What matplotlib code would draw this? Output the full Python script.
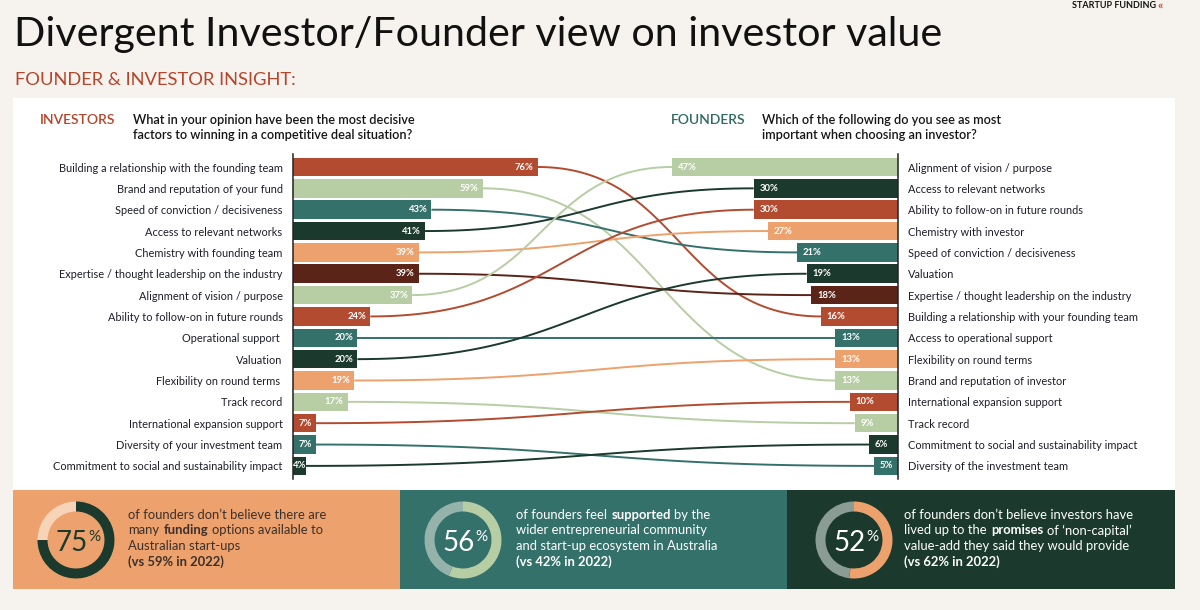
import matplotlib
matplotlib.use("Agg")
import matplotlib.pyplot as plt
import numpy as np
from matplotlib.patches import Rectangle


# ============================================
# Data
# ============================================

investor_labels = [
    "Building a relationship with the founding team",
    "Brand and reputation of your fund",
    "Speed of conviction / decisiveness",
    "Access to relevant networks",
    "Chemistry with founding team",
    "Expertise / thought leadership on the industry",
    "Alignment of vision / purpose",
    "Ability to follow-on in future rounds",
    "Operational support ",
    "Valuation",
    "Flexibility on round terms ",
    "Track record",
    "International expansion support",
    "Diversity of your investment team",
    "Commitment to social and sustainability impact",
]
investor_values = [76, 59, 43, 41, 39, 39, 37, 24, 20, 20, 19, 17, 7, 7, 4]
investor_keys = [
    "relationship", "brand", "speed", "networks", "chemistry", "expertise",
    "alignment", "follow_on", "operational", "valuation", "flexibility",
    "track", "international", "diversity", "commitment",
]

founder_labels = [
    "Alignment of vision / purpose",
    "Access to relevant networks",
    "Ability to follow-on in future rounds",
    "Chemistry with investor",
    "Speed of conviction / decisiveness",
    "Valuation",
    "Expertise / thought leadership on the industry",
    "Building a relationship with your founding team",
    "Access to operational support",
    "Flexibility on round terms",
    "Brand and reputation of investor",
    "International expansion support",
    "Track record",
    "Commitment to social and sustainability impact",
    "Diversity of the investment team",
]
founder_values = [47, 30, 30, 27, 21, 19, 18, 16, 13, 13, 13, 10, 9, 6, 5]
founder_keys = [
    "alignment", "networks", "follow_on", "chemistry", "speed", "valuation",
    "expertise", "relationship", "operational", "flexibility", "brand",
    "international", "track", "commitment", "diversity",
]

donut_values = [75, 56, 52]
donut_texts = [
    [[("of founders don’t believe there are", False)],
     [("many ", False), ("funding", True), (" options available to", False)],
     [("Australian start-ups", False)],
     [("(vs 59% in 2022)", True)]],
    [[("of founders feel ", False), ("supported", True), (" by the", False)],
     [("wider entrepreneurial community", False)],
     [("and start-up ecosystem in Australia", False)],
     [("(vs 42% in 2022)", True)]],
    [[("of founders don’t believe investors have", False)],
     [("lived up to the ", False), ("promises", True), (" of ‘non-capital’", False)],
     [("value-add they said they would provide", False)],
     [("(vs 62% in 2022)", True)]],
]


# ============================================
# Style
# ============================================

RUST = "#b34b30"
LIGHT_GREEN = "#b7cda4"
TEAL = "#35716b"
DARK = "#1b3a2d"
ORANGE = "#eda16d"
BROWN = "#5b2419"

key_colors = {
    "relationship": RUST, "brand": LIGHT_GREEN, "speed": TEAL,
    "networks": DARK, "chemistry": ORANGE, "expertise": BROWN,
    "alignment": LIGHT_GREEN, "follow_on": RUST, "operational": TEAL,
    "valuation": DARK, "flexibility": ORANGE, "track": LIGHT_GREEN,
    "international": RUST, "diversity": TEAL, "commitment": DARK,
}

plt.rcParams["font.family"] = ["Lato", "DejaVu Sans"]

W, H = 1200, 610
BG = "#f6f3ee"
LABEL_COLOR = "#1d1d2b"


def px_rect(x, y, w, h):
    return [x / W, 1 - (y + h) / H, w / W, h / H]


fig = plt.figure(figsize=(12, 6.1), dpi=100)
fig.patch.set_facecolor(BG)
renderer = fig.canvas.get_renderer()

bg = fig.add_axes([0, 0, 1, 1])
bg.set_xlim(0, W)
bg.set_ylim(H, 0)
bg.axis("off")

bg.add_patch(Rectangle((13, 98), 1162, 392, facecolor="white",
                       edgecolor="none", zorder=0))


def fit_text(x, y, s, target_w, **kw):
    t = bg.text(x, y, s, fontsize=10, **kw)
    w = t.get_window_extent(renderer=renderer).width
    t.set_fontsize(10 * target_w / w)
    return t


# ============================================
# Header
# ============================================

fit_text(14, 46, "Divergent Investor/Founder view on investor value", 929,
         color="#111111", va="baseline")
fit_text(15, 85, "FOUNDER & INVESTOR INSIGHT:", 280, color="#b5452b",
         va="baseline")
bg.text(1156, 5, "STARTUP FUNDING", fontsize=6.5, fontweight="bold",
        color="#111111", ha="right", va="center")
bg.text(1158, 5, "«", fontsize=8.5, fontweight="bold", color="#d9482b",
        ha="left", va="center")

bg.text(40, 120, "INVESTORS", fontsize=10, fontweight="semibold",
        color="#b5452b", va="center")
bg.text(133, 120, "What in your opinion have been the most decisive",
        fontsize=9.2, fontweight="semibold", color="#161616", va="center")
bg.text(133, 135, "factors to winning in a competitive deal situation?",
        fontsize=9.2, fontweight="semibold", color="#161616", va="center")

bg.text(671, 120, "FOUNDERS", fontsize=10, fontweight="semibold",
        color="#2e6a63", va="center")
bg.text(762, 120, "Which of the following do you see as most",
        fontsize=9.2, fontweight="semibold", color="#161616", va="center")
bg.text(762, 135, "important when choosing an investor?",
        fontsize=9.2, fontweight="semibold", color="#161616", va="center")


# ============================================
# Bar Charts
# ============================================

row_top = 167
row_step = 21.35
y_lo, y_hi = -0.6, 14.6
ax_top = row_top + y_lo * row_step
ax_h = (y_hi - y_lo) * row_step
rows = np.arange(len(investor_labels))

axL = fig.add_axes(px_rect(293, ax_top, 322, ax_h))
axL.set_xlim(0, 100)
axL.set_ylim(y_hi, y_lo)
axL.barh(rows, investor_values, height=0.87,
         color=[key_colors[k] for k in investor_keys])
axL.set_yticks(rows, investor_labels)

axR = fig.add_axes(px_rect(898 - 288.6, ax_top, 288.6, ax_h))
axR.set_xlim(60, 0)
axR.set_ylim(y_hi, y_lo)
axR.barh(rows, founder_values, height=0.87,
         color=[key_colors[k] for k in founder_keys])
axR.yaxis.tick_right()
axR.set_yticks(rows, founder_labels)

for ax, side in [(axL, "left"), (axR, "right")]:
    ax.patch.set_alpha(0)
    ax.set_xticks([])
    for name, spine in ax.spines.items():
        spine.set_visible(name == side)
    ax.spines[side].set_color("#222222")
    ax.spines[side].set_linewidth(1.1)
    ax.tick_params(axis="y", length=0, pad=7.5, labelsize=7.95,
                   labelcolor=LABEL_COLOR)

for i, v in enumerate(investor_values):
    if v < 5:
        # too short for an inside label: centre it on the bar
        axL.annotate(f"{v}%", (v / 2, i), ha="center", va="center",
                     color="white", fontsize=6.8, fontweight="bold")
    else:
        axL.annotate(f"{v}%", (v, i), xytext=(-3, 0),
                     textcoords="offset points", ha="right", va="center",
                     color="white", fontsize=6.8, fontweight="bold")

for j, v in enumerate(founder_values):
    axR.annotate(f"{v}%", (v, j), xytext=(4, 0), textcoords="offset points",
                 ha="left", va="center", color="white", fontsize=6.8,
                 fontweight="bold")


# ============================================
# Connectors
# ============================================

to_bg = bg.transData.inverted()
t = np.linspace(0, 1, 120)[:, None]

for i, key in enumerate(investor_keys):
    j = founder_keys.index(key)
    p0 = to_bg.transform(axL.transData.transform((investor_values[i], i)))
    p3 = to_bg.transform(axR.transData.transform((founder_values[j], j)))
    d = (p3[0] - p0[0]) * 0.5
    p1 = np.array([p0[0] + d, p0[1]])
    p2 = np.array([p3[0] - d, p3[1]])
    curve = ((1 - t) ** 3 * p0 + 3 * (1 - t) ** 2 * t * p1
             + 3 * (1 - t) * t ** 2 * p2 + t ** 3 * p3)
    bg.plot(curve[:, 0], curve[:, 1], color=key_colors[key], lw=1.4,
            zorder=2, solid_capstyle="butt")


# ============================================
# Bottom Insight Boxes
# ============================================

box_x = [13, 400, 787]
box_w = [387, 387, 388]
box_colors = [ORANGE, TEAL, DARK]
ring_colors = [[DARK, "#f7d3b8"], [LIGHT_GREEN, "#96b3ab"],
               [ORANGE, "#8a9c93"]]
number_colors = [DARK, "white", "white"]
text_colors = ["#3b302b", "white", "white"]
donut_cx = [76, 463, 854]
text_x = [128, 516, 904]
donut_cy = 540
donut_r = 38.5
line_y = [515, 530.5, 546, 561.5]
TEXT_SIZE = 9.4

probe = bg.text(0, 0, "a a", fontsize=TEXT_SIZE)
probe2 = bg.text(0, 0, "aa", fontsize=TEXT_SIZE)
space = (probe.get_window_extent(renderer=renderer).width
         - probe2.get_window_extent(renderer=renderer).width)
probe.remove()
probe2.remove()

for b in range(3):
    bg.add_patch(Rectangle((box_x[b], 490), box_w[b], 99,
                           facecolor=box_colors[b], edgecolor="none",
                           zorder=0))

    axD = fig.add_axes(px_rect(donut_cx[b] - donut_r, donut_cy - donut_r,
                               2 * donut_r, 2 * donut_r))
    axD.pie([donut_values[b], 100 - donut_values[b]], colors=ring_colors[b],
            startangle=90, counterclock=False,
            wedgeprops=dict(width=0.26, edgecolor="none"))
    axD.set_xlim(-1, 1)
    axD.set_ylim(-1, 1)
    axD.axis("off")

    bg.text(donut_cx[b] + 12, 551, f"{donut_values[b]}", fontsize=20,
            color=number_colors[b], ha="right", va="baseline")
    bg.text(donut_cx[b] + 12.5, 541, "%", fontsize=11,
            color=number_colors[b], ha="left", va="baseline")

    for line, y in zip(donut_texts[b], line_y):
        x = text_x[b]
        for part, bold in line:
            weight = "bold" if bold else "normal"
            if part.startswith(" "):
                x += space
            txt = bg.text(x, y, part.strip(), fontsize=TEXT_SIZE,
                          fontweight=weight, color=text_colors[b],
                          va="center")
            x += txt.get_window_extent(renderer=renderer).width
            if part.endswith(" "):
                x += space + 1

fig.savefig("out.png", dpi=100, facecolor=BG)
